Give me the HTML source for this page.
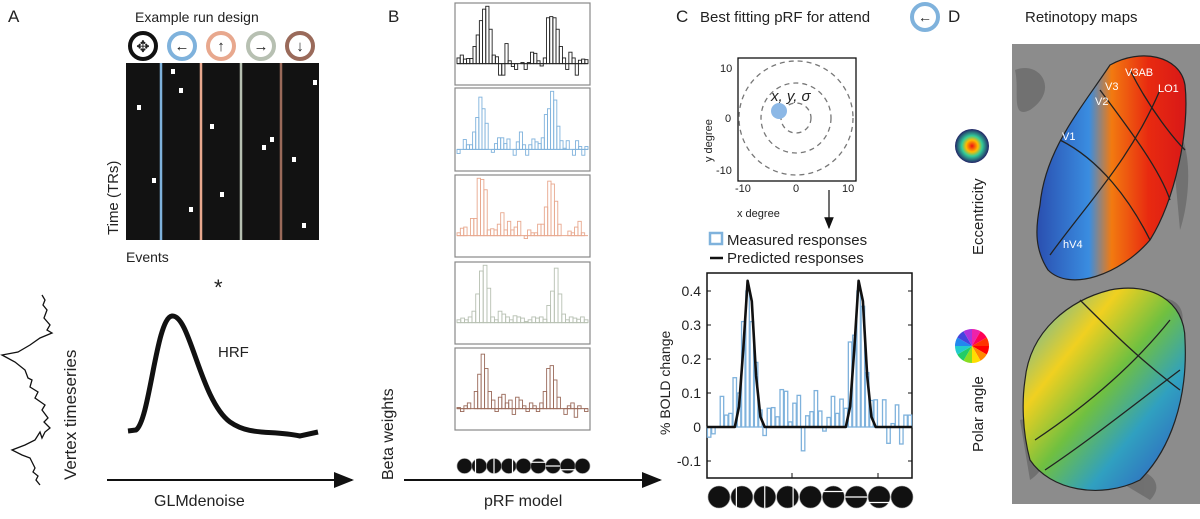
<!DOCTYPE html>
<html><head><meta charset="utf-8"><style>
body{margin:0;background:#fff;width:1200px;height:514px;overflow:hidden;font-family:"Liberation Sans",sans-serif}
svg text{font-family:"Liberation Sans",sans-serif;fill:#222}
</style></head><body>
<svg id="fig" width="1200" height="514" viewBox="0 0 1200 514">
<defs>
<marker id="ah" markerWidth="10" markerHeight="8" refX="9" refY="4" orient="auto"><path d="M0,0L10,4L0,8z" fill="#111"/></marker>
<radialGradient id="ecc" cx="50%" cy="50%" r="50%"><stop offset="0" stop-color="#e11"/><stop offset=".35" stop-color="#fb0"/><stop offset=".6" stop-color="#3c9"/><stop offset="1" stop-color="#226"/></radialGradient>
<linearGradient id="eccbrain" x1="0" y1="0" x2="1" y2="0"><stop offset="0" stop-color="#2a4fb0"/><stop offset=".35" stop-color="#3a8de0"/><stop offset=".5" stop-color="#f27a10"/><stop offset=".75" stop-color="#e82a10"/><stop offset="1" stop-color="#d81818"/></linearGradient>
<linearGradient id="polbrain" x1="0" y1="0" x2="1" y2="1"><stop offset="0" stop-color="#3ab0d0"/><stop offset=".3" stop-color="#f0d020"/><stop offset=".5" stop-color="#70c040"/><stop offset=".7" stop-color="#30a0c0"/><stop offset="1" stop-color="#3050c0"/></linearGradient>
<clipPath id="prfclip"><rect x="738" y="58" width="118" height="123"/></clipPath>
</defs>

<text x="8" y="22" font-size="17">A</text>
<text x="388" y="22" font-size="17">B</text>
<text x="676" y="22" font-size="17">C</text>
<text x="948" y="22" font-size="17">D</text>

<text x="135" y="22" font-size="14">Example run design</text>
<g>
<circle cx="143" cy="46" r="13" fill="none" stroke="#111" stroke-width="4"/><text x="143" y="52" font-size="16" text-anchor="middle">✥</text>
<circle cx="182" cy="46" r="13" fill="none" stroke="#7fb2dc" stroke-width="4"/><text x="182" y="51" font-size="15" text-anchor="middle">←</text>
<circle cx="221" cy="46" r="13" fill="none" stroke="#e8a88e" stroke-width="4"/><text x="221" y="51" font-size="15" text-anchor="middle">↑</text>
<circle cx="261" cy="46" r="13" fill="none" stroke="#b7c0b2" stroke-width="4"/><text x="261" y="51" font-size="15" text-anchor="middle">→</text>
<circle cx="300" cy="46" r="13" fill="none" stroke="#9a6a5a" stroke-width="4"/><text x="300" y="51" font-size="15" text-anchor="middle">↓</text>
</g>
<rect x="126" y="63" width="193" height="177" fill="#121212"/>
<line x1="161" y1="63" x2="161" y2="240" stroke="#7fb2dc" stroke-width="2.5"/>
<line x1="201" y1="63" x2="201" y2="240" stroke="#e8a88e" stroke-width="2.5"/>
<line x1="241" y1="63" x2="241" y2="240" stroke="#b7c0b2" stroke-width="2.5"/>
<line x1="281" y1="63" x2="281" y2="240" stroke="#9a6a5a" stroke-width="2.5"/>
<g fill="#fff">
<rect x="171" y="69" width="4" height="5"/><rect x="179" y="88" width="4" height="5"/><rect x="137" y="105" width="4" height="5"/><rect x="210" y="124" width="4" height="5"/><rect x="270" y="137" width="4" height="5"/><rect x="262" y="145" width="4" height="5"/><rect x="292" y="157" width="4" height="5"/><rect x="152" y="178" width="4" height="5"/><rect x="313" y="80" width="4" height="5"/><rect x="220" y="192" width="4" height="5"/><rect x="189" y="207" width="4" height="5"/><rect x="302" y="223" width="4" height="5"/>
</g>
<text transform="translate(118,235) rotate(-90)" font-size="15">Time (TRs)</text>
<text x="126" y="262" font-size="14">Events</text>
<text x="214" y="295" font-size="22">*</text>
<path d="M128,431 L136,430 C150,420 156,318 172,316 C190,314 200,400 230,422 C250,436 270,430 300,436 L318,432" fill="none" stroke="#111" stroke-width="5"/>
<text x="218" y="357" font-size="15">HRF</text>
<path d="M42,295 L45,300 L43,305 L47,310 L44,318 L50,325 L47,330 L52,333 L40,338 L30,345 L18,352 L2,355 L15,362 L25,370 L28,378 L32,380 L30,387 L38,392 L35,398 L45,405 L42,410 L48,418 L44,422 L50,428 L45,432 L42,438 L40,432 L35,440 L25,445 L12,450 L22,455 L30,458 L32,462 L35,468 L33,472 L38,476 L36,480 L40,485" fill="none" stroke="#111" stroke-width="1.3"/>
<text transform="translate(76,480) rotate(-90)" font-size="17">Vertex timeseries</text>
<line x1="107" y1="480" x2="352" y2="480" stroke="#111" stroke-width="2" marker-end="url(#ah)"/>
<text x="154" y="506" font-size="16">GLMdenoise</text>

<text transform="translate(393,480) rotate(-90)" font-size="16">Beta weights</text>
<g id="bpanels"></g>
<g id="brow"></g>
<line x1="404" y1="480" x2="660" y2="480" stroke="#111" stroke-width="2" marker-end="url(#ah)"/>
<text x="484" y="506" font-size="16">pRF  model</text>

<text x="700" y="22" font-size="15">Best fitting pRF for attend</text>
<circle cx="925" cy="17" r="13" fill="none" stroke="#7fb2dc" stroke-width="4"/><text x="925" y="22" font-size="14" text-anchor="middle">←</text>
<g>
<rect x="738" y="58" width="118" height="123" fill="none" stroke="#111" stroke-width="1.3"/>
<g clip-path="url(#prfclip)">
<circle cx="796" cy="118" r="15" fill="none" stroke="#777" stroke-width="1.3" stroke-dasharray="5,4"/>
<circle cx="796" cy="118" r="35" fill="none" stroke="#777" stroke-width="1.3" stroke-dasharray="5,4"/>
<circle cx="796" cy="118" r="57" fill="none" stroke="#777" stroke-width="1.3" stroke-dasharray="5,4"/>
</g>
<circle cx="779" cy="111" r="8" fill="#8cb8e6"/>
<text x="771" y="101" font-size="15" font-style="italic">x, y, σ</text>
<text x="720" y="72" font-size="11">10</text><text x="725" y="122" font-size="11">0</text><text x="716" y="174" font-size="11">-10</text>
<text x="735" y="192" font-size="11">-10</text><text x="793" y="192" font-size="11">0</text><text x="842" y="192" font-size="11">10</text>
<text x="737" y="217" font-size="11">x degree</text>
<text transform="translate(712,162) rotate(-90)" font-size="11">y degree</text>
</g>
<line x1="829" y1="190" x2="829" y2="228" stroke="#111" stroke-width="1.2" marker-end="url(#ah)"/>
<g>
<rect x="710" y="233" width="12" height="11" fill="none" stroke="#7fb2dc" stroke-width="2.5"/>
<text x="727" y="245" font-size="15">Measured responses</text>
<line x1="710" y1="258" x2="723" y2="258" stroke="#111" stroke-width="2.5"/>
<text x="727" y="263" font-size="15">Predicted responses</text>
</g>
<g id="bold"></g>
<g id="crow"></g>

<text x="1025" y="22" font-size="15">Retinotopy maps</text>
<rect x="1012" y="44" width="188" height="460" fill="#8c8c8c"/>
<g fill="#6a6a6a" opacity=".8">
<path d="M1015,70 C1040,60 1060,90 1030,110 C1010,120 1020,90 1015,70z"/><path d="M1150,300 C1180,290 1195,320 1170,340z"/><path d="M1020,420 C1050,410 1060,460 1030,480z"/><path d="M1100,470 C1140,460 1170,480 1150,500z"/><path d="M1170,120 C1195,140 1190,200 1180,230z"/>
</g>
<path d="M1040,205 C1045,150 1080,110 1110,65 C1140,48 1180,55 1185,85 C1190,130 1175,200 1150,240 C1120,275 1070,292 1048,270 C1035,250 1035,230 1040,205z" fill="url(#eccbrain)" stroke="#222" stroke-width="1.2"/>
<g fill="none" stroke="#222" stroke-width="1.3"><path d="M1050,255 C1090,200 1130,160 1160,90"/><path d="M1060,140 C1100,160 1130,200 1150,240"/><path d="M1100,90 C1130,130 1160,170 1170,200"/><path d="M1130,70 C1150,110 1175,140 1185,150"/></g>
<g font-size="11"><text x="1062" y="140" style="fill:#fff">V1</text><text x="1095" y="105" style="fill:#fff">V2</text><text x="1105" y="90" style="fill:#fff">V3</text><text x="1125" y="76" style="fill:#fff">V3AB</text><text x="1158" y="92" style="fill:#fff">LO1</text><text x="1063" y="248" style="fill:#fff">hV4</text></g>
<path d="M1025,380 C1030,330 1070,300 1110,290 C1150,282 1185,300 1185,340 C1188,400 1170,450 1140,480 C1100,500 1050,490 1030,460 C1022,430 1022,400 1025,380z" fill="url(#polbrain)" stroke="#222" stroke-width="1.2"/>
<g fill="none" stroke="#222" stroke-width="1.3"><path d="M1035,440 C1080,410 1130,370 1170,320"/><path d="M1045,470 C1090,440 1140,400 1180,370"/><path d="M1080,300 C1110,330 1140,360 1180,390"/></g>
<circle cx="972" cy="146" r="17" fill="url(#ecc)"/>
<g id="wheel"></g>
<text transform="translate(983,255) rotate(-90)" font-size="15">Eccentricity</text>
<text transform="translate(983,452) rotate(-90)" font-size="15">Polar angle</text>
</svg>
<script>
const measured=[-0.03,-0.02,0,0.09,0.035,0.04,0.145,0.1,0.31,0.4,0.31,0.19,0.05,-0.025,0.055,0.057,0.03,0.11,0.105,0.015,0.07,0.093,-0.07,0.033,0.045,0.107,0.047,-0.012,0.028,0.09,0.04,0.082,0.055,0.25,0.27,0.4,0.355,0.16,0.078,0.08,0,0.08,-0.048,0.01,0.065,-0.05,0.035,0.035];
const predicted=[0,0,0,0,0,0,0,0.06,0.23,0.43,0.37,0.15,0.03,0,0,0,0,0,0,0,0,0,0,0,0,0,0,0,0,0,0,0,0,0.06,0.23,0.43,0.37,0.15,0.03,0,0,0,0,0,0,0,0,0];
const yTicks=[-0.1,0,0.1,0.2,0.3,0.4];
const yTickLabels=["-0.1","0","0.1","0.2","0.3","0.4"];
const betaAll=[0.1,0.15,0.08,0.09,0.09,0.3,0.5,0.75,0.95,1.0,0.6,0.15,0.12,-0.2,-0.2,0.35,0.05,-0.05,-0.1,0.0,0.02,-0.1,0.02,0.2,0.18,0.05,-0.04,0.1,0.8,0.82,0.8,0.6,0.3,0.1,-0.1,0.2,0.1,-0.2,0.06,0.08,0.07];
const betaLeft=[-0.07,0.0,0.17,0.08,0.08,0.3,0.55,0.9,0.7,0.45,0.0,-0.05,0.1,0.2,0.2,0.1,0.18,0.0,-0.1,0.13,0.3,0.08,-0.1,0.08,0.18,0.13,0.1,0.2,0.6,0.7,1.0,0.85,0.4,0.15,0.02,0.15,0.0,-0.1,0.15,0.05,-0.1,0.05];
const betaUp=[0.05,0.13,0.15,0.0,0.3,0.3,1.0,0.98,0.8,0.1,0.12,0.1,0.2,0.4,0.1,0.25,0.1,0.15,0.25,0.0,-0.05,0.1,0.05,0.05,0.2,0.2,0.5,0.95,0.9,0.6,0.2,0.0,0.0,0.08,0.05,0.15,0.25,0.05,0.0];
const betaRight=[0.05,0.08,0.05,0.1,0.2,0.5,0.9,1.0,0.6,0.1,0.05,0.2,0.15,0.1,0.05,0.12,0.1,0.08,0.02,0.05,0.1,0.08,0.1,0.06,0.3,0.55,0.95,0.5,0.15,0.05,0.1,0.08,0.06,0.1,0.05];
const betaDown=[0.02,-0.05,0.05,0.1,0.0,0.3,0.6,0.95,0.7,0.3,0.15,-0.05,0.2,0.25,0.1,0.15,-0.1,0.2,0.15,0.05,-0.05,0.1,0.05,-0.05,0.1,0.3,0.7,0.75,0.5,0.2,0.0,-0.1,0.05,0.1,-0.15,0.05,0.0,-0.05];

const NS="http://www.w3.org/2000/svg";
function mk(tag,attrs,parent){const e=document.createElementNS(NS,tag);for(const k in attrs)e.setAttribute(k,attrs[k]);parent.appendChild(e);return e;}

const bold=document.getElementById('bold');
const px0=707,px1=912,py0=273,py1=478;
const xS=i=>px0+(px1-px0)*i/measured.length;
const yS=v=>427-v*340;
mk('rect',{x:px0,y:py0,width:px1-px0,height:py1-py0,fill:'none',stroke:'#111','stroke-width':1.5},bold);
for(let i=0;i<measured.length;i++){
  const r=mk('rect',{x:xS(i)+0.4,y:Math.min(yS(measured[i]),yS(0)),width:(px1-px0)/measured.length-0.8,height:Math.abs(yS(measured[i])-yS(0)),fill:'none',stroke:'#7fb2dc','stroke-width':1.3},bold);
  
  
}
let d='';
for(let i=0;i<predicted.length;i++){d+='L'+(xS(i+0.5)).toFixed(1)+','+yS(predicted[i]).toFixed(1);}
d='M'+px0+','+yS(0)+d+'L'+px1+','+yS(0);
const pl=mk('path',{d:d,fill:'none',stroke:'#111','stroke-width':2.6,'stroke-linejoin':'round'},bold);


yTicks.forEach((t,k)=>{
  mk('line',{x1:px0,x2:px0+4,y1:yS(t),y2:yS(t),stroke:'#111'},bold);
  mk('line',{x1:px1-4,x2:px1,y1:yS(t),y2:yS(t),stroke:'#111'},bold);
  const tx=mk('text',{x:px0-6,y:yS(t)+5,'font-size':14,'text-anchor':'end'},bold);
  tx.textContent=yTickLabels[k];
  
  
});
[792,878].forEach(x=>mk('line',{x1:x,x2:x,y1:py1,y2:py1-5,stroke:'#111'},bold));
const yl=mk('text',{transform:'translate(670,435) rotate(-90)','font-size':14},bold);
yl.textContent='% BOLD change';



function icons(g,x0,x1,cy,r){
  const n=9;
  for(let i=0;i<n;i++){
    const cx=x0+r+(x1-x0-2*r)*i/(n-1);
    mk('circle',{cx:cx,cy:cy,r:r,fill:'#111',stroke:'#999','stroke-width':0.6},g);
    if(i>=1&&i<=3)mk('line',{x1:cx-r+r*0.5*i,x2:cx-r+r*0.5*i,y1:cy-r,y2:cy+r,stroke:'#fff','stroke-width':1.2},g);
    if(i>=5&&i<=7)mk('line',{x1:cx-r,x2:cx+r,y1:cy-r+r*0.5*(i-4),y2:cy-r+r*0.5*(i-4),stroke:'#fff','stroke-width':1.2},g);
  }
}
icons(document.getElementById('crow'),708,913,497,11);
icons(document.getElementById('brow'),457,590,466,7.5);

const bp=document.getElementById('bpanels');
const series=[betaAll,betaLeft,betaUp,betaRight,betaDown];
const colors=['#222','#7fb2dc','#e8a88e','#b7c0b2','#9a6a5a'];
const tops=[3,88,175,262,348], hs=[82,83,82,82,82];
series.forEach((s,k)=>{
  const x0=455,w=135,t=tops[k],h=hs[k];
  mk('rect',{x:x0,y:t,width:w,height:h,fill:'none',stroke:'#888','stroke-width':1.2},bp);
  const base=t+h*0.74, sc=h*0.7;
  mk('line',{x1:x0+2,x2:x0+w-2,y1:base,y2:base,stroke:colors[k],'stroke-width':1},bp);
  const bw=(w-4)/s.length;
  s.forEach((v,i)=>{
    const y=Math.max(t+1,base-v*sc);
    const b=mk('rect',{x:x0+2+i*bw,y:Math.min(y,base),width:bw,height:Math.abs(base-y),fill:'none',stroke:colors[k],'stroke-width':0.9},bp);
    
    
  });
});

const wh=document.getElementById('wheel');
const wc=['#f00','#f80','#fd0','#8d2','#2c6','#2cc','#28e','#44d','#a3d','#e2a','#f05','#f30'];
wc.forEach((c,i)=>{
  const a0=i/12*2*Math.PI,a1=(i+1)/12*2*Math.PI,r=17,cx=972,cy=346;
  mk('path',{d:`M${cx},${cy}L${cx+r*Math.cos(a0)},${cy+r*Math.sin(a0)}A${r},${r} 0 0 1 ${cx+r*Math.cos(a1)},${cy+r*Math.sin(a1)}z`,fill:c},wh);
});
</script>
</body></html>
